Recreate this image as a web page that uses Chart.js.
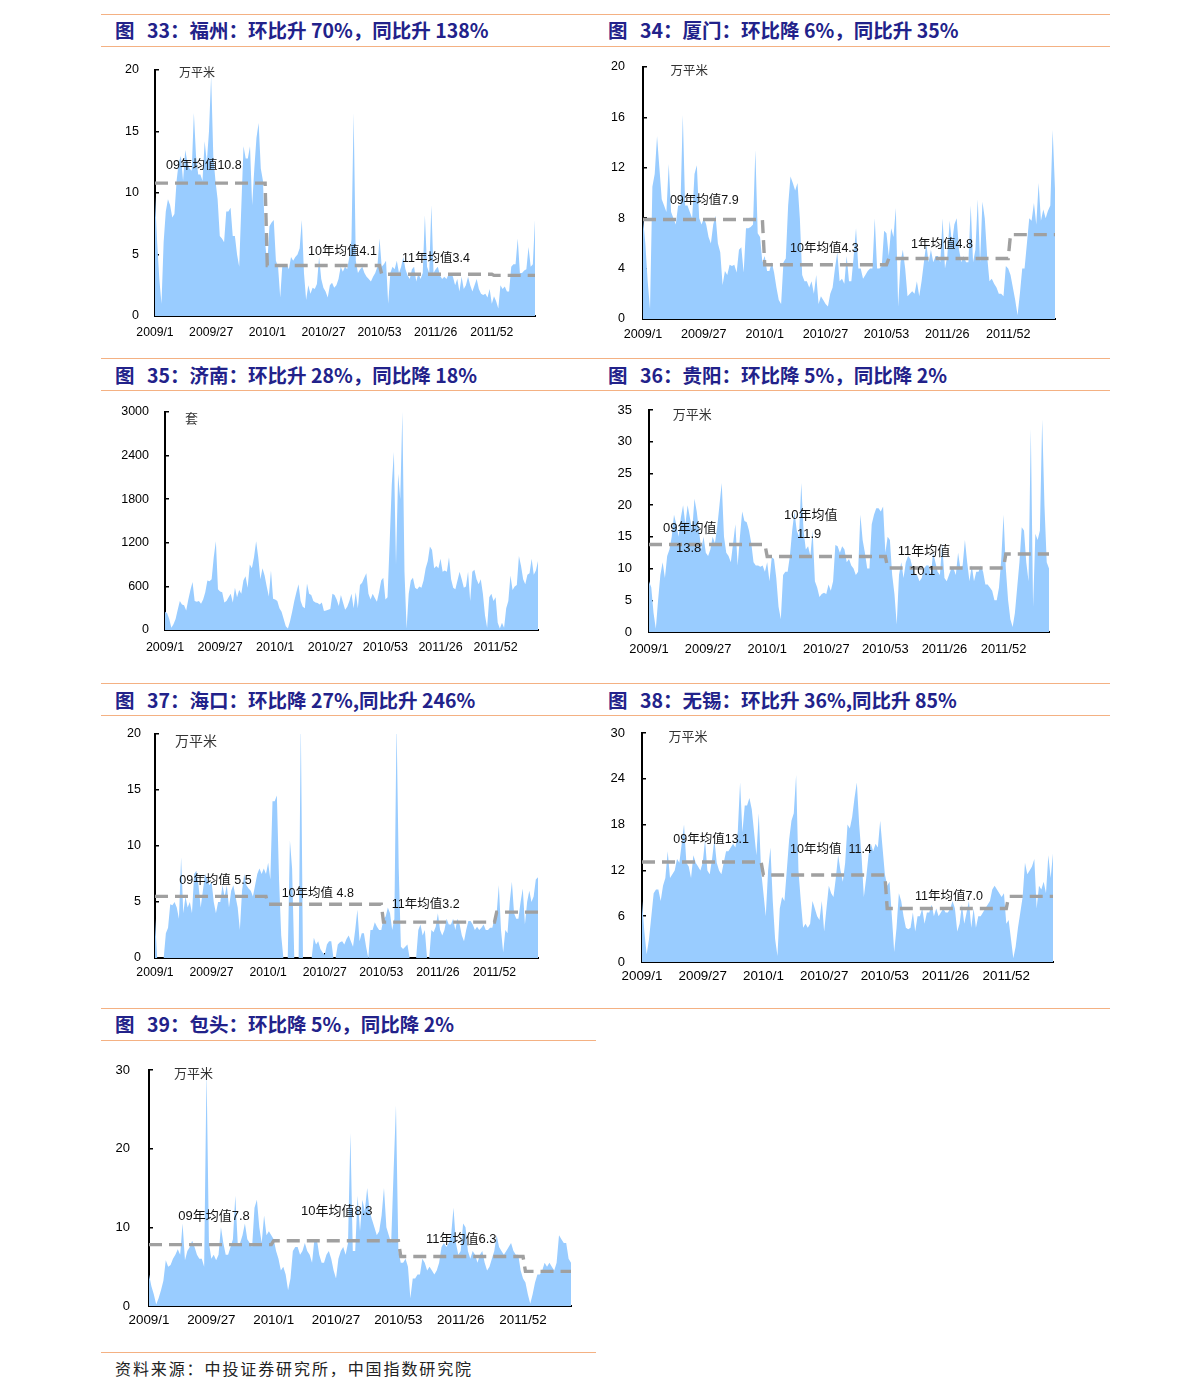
<!DOCTYPE html>
<html><head><meta charset="utf-8">
<script src="https://cdn.jsdelivr.net/npm/chart.js@4.4.1/dist/chart.umd.min.js"></script>
<style>
html,body{margin:0;padding:0;background:#fff;}
body{position:relative;width:1191px;height:1399px;overflow:hidden;font-family:"Noto Sans CJK SC",sans-serif;}
.rule{position:absolute;height:1px;background:#F4B183;}
.title{position:absolute;font-size:19.5px;font-weight:700;color:#22228a;white-space:pre;line-height:24px;}
.title b{display:inline-block;width:32px;font-weight:700;}
.src{position:absolute;left:115px;top:1357px;font-size:16px;line-height:22px;letter-spacing:1.9px;color:#222;white-space:pre;}
canvas{position:absolute;}
</style></head><body>
<div class="rule" style="left:101px;top:14px;width:1009px"></div>
<div class="rule" style="left:101px;top:46px;width:1009px"></div>
<div class="rule" style="left:101px;top:358px;width:1009px"></div>
<div class="rule" style="left:101px;top:390px;width:1009px"></div>
<div class="rule" style="left:101px;top:683px;width:1009px"></div>
<div class="rule" style="left:101px;top:715px;width:1009px"></div>
<div class="rule" style="left:101px;top:1008px;width:1009px"></div>
<div class="rule" style="left:101px;top:1040px;width:495px"></div>
<div class="rule" style="left:101px;top:1352px;width:495px"></div>

<div class="title" style="left:115px;top:18px"><b>图</b>33：福州：环比升 70%，同比升 138%</div>
<div class="title" style="left:608px;top:18px"><b>图</b>34：厦门：环比降 6%，同比升 35%</div>
<div class="title" style="left:115px;top:363px"><b>图</b>35：济南：环比升 28%，同比降 18%</div>
<div class="title" style="left:608px;top:363px"><b>图</b>36：贵阳：环比降 5%，同比降 2%</div>
<div class="title" style="left:115px;top:688px"><b>图</b>37：海口：环比降 27%,同比升 246%</div>
<div class="title" style="left:608px;top:688px"><b>图</b>38：无锡：环比升 36%,同比升 85%</div>
<div class="title" style="left:115px;top:1012px"><b>图</b>39：包头：环比降 5%，同比降 2%</div>
<div class="src">资料来源：中投证券研究所，中国指数研究院</div>

<script>
// ---------- categories ----------
const years = [2009, 2010, 2011, 2012];
const yearWeeks = [52, 53, 52, 20];
const weekLabels = [];
years.forEach((y, k) => { for (let w = 1; w <= yearWeeks[k]; w++) weekLabels.push(y + '/' + w); });

// ---------- series (weekly) ----------
const fuzhou = [
 9.7,6,3,1,6,8.5,9.5,9,8,8.3, 11,12.5,13,11,13.5,12.5,12,11.8,16.5,13, 11.5,11.5,11,14.2,12.5,15,19.5,13,11,9.5,
 6.5,6.3,6,8.5,8.5,8.8,6.5,6.5,5,4, 9,13.8,12.8,12.8,13.8,9,12,14.5,15.7,12, 11,6,
 4.2,7.3,7.6,7.8,4.5,4,1.5,4.2,4,4.2, 3.8,4.8,4.5,4.8,5,5.5,7.8,3.5,1.3,2.5, 1.8,2.3,2.2,2.6,4.8,3,2.3,2,1.5,2.5,
 2.7,2.3,2.5,3,4,3.6,4,3.8,4.8,6.2, 16.5,4.5,3.5,3.8,4,3.5,3.2,3,2.8,3.2, 3.5,4,6.3,
 4,4.2,4.5,1,3.5,4,3.8,4.5,3.5,4, 4.8,3.8,3.3,3,3.8,4,2.8,3.5,3,3.5, 8.2,4,3.5,9,3.5,3.8,4,3.3,3,3.2,
 3,3.4,3.5,3.2,2.5,3,2,3.2,2.2,2.5, 3.2,2.5,2,2.5,3,2.2,1.8,1.7,1.8,1.5, 2.2,1,
 1.6,1.2,0.6,2.5,2.2,2.4,2,2,4,4.2, 4.2,6.3,3.5,3.5,3.7,3.8,5.6,4,4.2,7.8
];
const xiamen = [
 8,6,3,0.8,10.5,11.5,14.5,12,9.5,9, 8.5,12.3,8.5,8,7.5,9,9,16.2,9,9, 8.5,8,11.5,12.2,8,7.5,8,7.5,6.5,6,
 7.5,8.2,6,5.3,2.7,3.8,3.5,4.3,4.2,4.3, 3.7,5.5,5.7,3.7,7.2,7.2,7.3,7.5,13.4,6.8, 6.5,4.5,
 5,3.8,3.8,4.5,3.7,2.5,1.5,1.2,4.5,4.8, 9,11.3,10.8,10.2,10.8,8,3.5,3,3,2.5, 3,2,3.5,1.2,1.8,1.5,1.2,1,2,2.5,
 4,5.3,3,3.2,2.8,5,3,3,5,7.2, 4,4,3.2,3.5,3.8,4,4,8,4,4, 4.2,7,6.8,
 5,7.2,6.5,8.8,1,4.5,5.5,4,1.8,2, 2.2,2,3,1.8,3,4.5,6,4.5,5.5,4.5, 5,5,4.5,8,4,5,7.8,6,7.5,8,
 5.5,4.5,5,4.5,4.5,9,4.5,5.5,9.5,4.5, 9.3,8,5,3,3.2,2.8,2.5,2,2,1.8, 4.2,4,
 3.5,2.5,1.5,0.3,2,4,4,6,8,7.8, 9.2,7.5,10.8,7.8,8.7,8,8.6,9,15,10.3
];
const jinan = [
 250,230,150,30,80,150,280,400,350,340, 270,420,550,660,400,390,400,360,420,520, 680,670,700,1000,1220,560,530,520,380,400,
 450,500,380,580,450,550,500,680,740,580, 900,850,1000,1220,1000,700,850,750,600,460, 820,430,
 420,400,300,250,150,50,20,120,250,400, 520,630,400,320,300,640,500,480,400,380, 370,350,380,260,270,280,290,500,480,420,
 330,480,380,280,320,400,500,300,520,300, 620,650,720,780,500,420,500,440,390,520, 680,720,420,
 450,1200,2000,2450,900,2150,1800,3000,800,20, 500,680,720,580,560,600,580,680,850,950, 1150,1100,850,880,850,980,800,820,800,1000,
 700,580,560,680,800,700,580,600,800,400, 800,830,700,630,700,500,200,30,450,500, 400,450,
 100,20,100,30,300,400,750,550,600,620, 1020,880,700,630,760,780,980,760,820,950
];
const guiyang = [
 8,7,3,0.5,5,9,11,8.5,12,13, 15,18.5,17,15,18,20,17,20,18,16, 21,19,16,13,15,12.5,12,13,15,14,
 16.5,20,23.5,15,12.5,12,11,14,17,10.5, 15,19,17.5,17.3,16,14,11,10.5,10.5,10.3, 10.5,9.5,
 11,8,11.8,11.5,8.5,4,2,9,9.5,9.5, 12,16,19,16,15,23.5,16,13,13.5,12, 16,8,7,5.5,6,6.2,6,7.5,6.5,8,
 13.7,13.5,12.5,13.5,13,11,11.5,10.5,10,9, 9.5,18.5,14.5,12.5,10,10,17,18.5,19.5,19.5, 19,19.8,12.5,
 15,14.5,9,6,1.2,9,11,8.5,11,12, 11.5,10,9,9,8,8.5,10,10.5,10.5,9, 12.5,11,9.5,9,14,8.5,8,9,10,10,
 9,12.5,10,10.5,14.5,11,8,10.5,8,9.5, 9.5,10.5,9.5,7.5,7.5,7,6.5,5,5,7, 11.5,18.5,
 10,5,2,0.8,3,7,11,16.5,16,11, 8,32,4,15.5,14.5,16,33.5,20,11,10
];
const haikou = [
 3.5,0,0,0,0,2.2,2.7,4.8,4.7,5, 4.5,3.5,9,4,5.5,4.5,5,4,7.5,7.8, 6.5,4.5,6,7.5,7,6.5,6.8,5,4,5,
 5,6.5,5.5,6.5,4.5,6,6.5,5.5,4.5,2.5, 6,7.5,6.5,6.2,6,5.5,6.5,7.5,8,7.5, 8,7.5,
 8.5,7,14,14,14.5,7,2,0,0,0, 10.5,8,0,0,0,21,0,0,0,0, 0,1.8,1.2,1.5,0.8,0.5,0.3,1.2,1.5,1.5,
 0,0,1.2,1.4,1.5,1.2,1.7,2,1.5,1, 2.5,4.3,1.5,2.2,2.2,1,0,2.5,2.5,3.2, 2.8,2.5,2.5,
 3.5,3.7,4.5,4,2.5,3.5,21,8,1,0.8, 1,1.2,0,0,0,0,2.5,3,2,2.5, 0,0,2.5,2.3,2.8,4,2.5,2,2.5,3.5,
 3,3,3.5,2.5,3.5,3,2,1.5,2.5,3.3, 3.3,3,2.5,2.8,2.5,2.7,3,2.5,2.5,2.7, 2.7,3.5,
 4,6.5,2.5,0.5,2.5,2.2,5,6.8,4,3.5, 3.5,5,6.2,3,5,6,5,5.5,7,7.2
];
const wuxi = [
 8,4,1,3,6,9,9.5,9.5,8,10, 11,14.5,11,11.5,12,13.5,13,15.5,18,13, 12.5,11,14,13,12.5,12,13,16,12,11.5,
 13.5,16,13,12,11.5,13,14.5,14.5,15,15.5, 15,17,23.5,17,20.5,20.5,21.5,20,17,14, 19.5,12,
 9,6,12,15,8,3,0.8,7,8.5,8, 12,16,18.5,19.5,24.5,12,8,4.5,5,4.5, 5,8,7,6,5.5,8,4,7,10,9,
 8.5,11,14,12,10.5,13,18,17.5,19,21.5, 23.5,18,14,8.5,11,14,15.5,14.5,15.5,15, 18.5,15,11.5,
 10,10.5,6,1.3,4.5,9,8,6,4.5,4.3, 4.5,6.5,4,6,6,7,5,6.5,6.5,7.5, 6,7,6,6.5,7,6.5,6.5,7,8,7,
 4,5,7.5,5,6.5,8,4.5,7,4.5,6, 6,6.5,7,7.5,8,9.5,10,9.5,9,8.5, 9,5,
 5.5,3,0.5,2,4.5,6.5,8.5,13,11.5,12, 12.5,13.5,7,10,9.5,10.5,9,14,11,14.2
];
const baotou = [
 4,2.5,1.5,0.2,1,2,3.2,5.8,5,5.2, 6,6.5,7.2,6.5,10.5,5.8,7,7.5,8.3,7.5, 6.5,6,6,5,30,8,6,6.5,5.8,6.5,
 10,8,6.5,6.5,7.5,8.5,14,8,8,9, 10.5,8.5,8,7.5,12.5,13.5,10,8,11.5,9, 9.5,9,
 8.5,7,6,4.5,5,4,2,3.5,7,7.5, 7.5,6.5,7,8,7,6.5,5.5,8.5,8.5,6.5, 5.5,5.5,6.5,7,6,4.5,3.5,6,7,7.5,
 6.5,8,22,7,7,14,9.5,13.5,12,15, 12,11,10,9,9.5,11.5,15,10,9,8, 17,25.5,7,
 5.5,5.5,6,5,1,3.5,3.5,4,4,6, 5.5,4.5,5,4.5,4,4.5,5.5,7.5,8,7.5, 8,9,12.5,8,6.5,7,10.5,10,7,6,
 7,6.5,5.5,6.5,7,5.5,4.5,5,6,7, 9,7.5,7,6.5,7,7.5,8,7,6.5,6.5, 4.5,3.5,
 3,1.5,0.3,1.5,3,4,4,4.5,5.5,5, 5.5,5,4.5,5.5,9,8.5,8,8,6,5.5
];

// yearly averages (2009, 2010, 2011, 2012)
const fuzhouMean  = [10.8, 4.1, 3.4, 3.3];
const xiamenMean  = [7.9, 4.3, 4.8, 6.7];
const guiyangMean = [13.8, 11.9, 10.1, 12.3];
const haikouMean  = [5.5, 4.8, 3.2, 4.1];
const wuxiMean    = [13.1, 11.4, 7.0, 8.6];
const baotouMean  = [7.8, 8.3, 6.3, 4.4];

// annotation texts
const fuzhouNotes  = ['09年均值10.8', '10年均值4.1', '11年均值3.4'];
const xiamenNotes  = ['09年均值7.9', '10年均值4.3', '1年均值4.8'];
const guiyangNotes = ['09年均值', '13.8', '10年均值', '11.9', '11年均值', '10.1'];
const haikouNotes  = ['09年均值 5.5', '10年均值 4.8', '11年均值3.2'];
const wuxiNotes    = ['09年均值13.1', '10年均值  11.4', '11年均值7.0'];
const baotouNotes  = ['09年均值7.8', '10年均值8.3', '11年均值6.3'];

function meanSeries(m) {
  const out = [];
  yearWeeks.forEach((n, k) => { for (let i = 0; i < n; i++) out.push(m[k]); });
  return out;
}

const FONT = '"Liberation Sans", Arial, "Noto Sans CJK SC", sans-serif';
Chart.defaults.font.family = FONT;

const notePlugin = {
  id: 'notes',
  afterDraw(chart, args, opts) {
    const {ctx, scales: {x, y}} = chart;
    ctx.save();
    (opts.items || []).forEach(n => {
      ctx.font = (n.size || 12.5) + 'px ' + FONT;
      ctx.fillStyle = n.color || '#111';
      ctx.textAlign = 'left';
      ctx.textBaseline = 'middle';
      ctx.fillText(n.text, x.getPixelForValue(n.i), y.getPixelForValue(n.v));
    });
    ctx.restore();
  }
};

const unit = (t, i, v, size) => ({text: t, i, v, size, color: '#333'});

const panels = [
  {data: fuzhou, mean: fuzhouMean, box: [155, 70, 535, 316], yMax: 20, yStep: 5, yFont: 12.5, yGap: 16, xFont: 12.2, xPad: 14.4,
   notes: [unit('万平米', 11.1, 19.7, 12), {text: fuzhouNotes[0], i: 5.1, v: 12.2}, {text: fuzhouNotes[1], i: 70.9, v: 5.2}, {text: fuzhouNotes[2], i: 114.4, v: 4.7}]},
  {data: xiamen, mean: xiamenMean, box: [643, 67, 1055, 319], yMax: 20, yStep: 4, yFont: 12.5, yGap: 18, xFont: 12.6, xPad: 13.4,
   notes: [unit('万平米', 11.8, 19.6, 12.5), {text: xiamenNotes[0], i: 11.5, v: 9.44}, {text: xiamenNotes[1], i: 62.8, v: 5.6}, {text: xiamenNotes[2], i: 114.5, v: 5.9}]},
  {data: jinan, mean: null, box: [165, 412, 538, 630], yMax: 3000, yStep: 600, yFont: 12.5, yGap: 16, xFont: 12.5, xPad: 15.5,
   notes: [unit('套', 9.4, 2903, 13)]},
  {data: guiyang, mean: guiyangMean, box: [649, 410, 1049, 632], yMax: 35, yStep: 5, yFont: 13, yGap: 17, xFont: 12.9, xPad: 14.3,
   notes: [unit('万平米', 10.4, 34.2, 13), {text: guiyangNotes[0], i: 6.2, v: 16.4, size: 13}, {text: guiyangNotes[1], i: 11.9, v: 13.2, size: 13},
           {text: guiyangNotes[2], i: 59.4, v: 18.4, size: 13}, {text: guiyangNotes[3], i: 65.1, v: 15.4, size: 13},
           {text: guiyangNotes[4], i: 109.4, v: 12.66, size: 13}, {text: guiyangNotes[5], i: 114.8, v: 9.5, size: 13}]},
  {data: haikou, mean: haikouMean, box: [155, 734, 538, 958], yMax: 20, yStep: 5, yFont: 12.5, yGap: 14, xFont: 12.2, xPad: 12,
   notes: [unit('万平米', 9.2, 19.3, 14), {text: haikouNotes[0], i: 11.2, v: 6.96}, {text: haikouNotes[1], i: 58.2, v: 5.78}, {text: haikouNotes[2], i: 108.8, v: 4.79}]},
  {data: wuxi, mean: wuxiMean, box: [642, 733, 1053, 962], yMax: 30, yStep: 6, yFont: 13, yGap: 17, xFont: 13.4, xPad: 11.7,
   notes: [unit('万平米', 11.3, 29.4, 13), {text: wuxiNotes[0], i: 13.4, v: 16.0}, {text: wuxiNotes[1], i: 63.4, v: 14.76}, {text: wuxiNotes[2], i: 116.9, v: 8.56}]},
  {data: baotou, mean: baotouMean, box: [149, 1070, 571, 1306], yMax: 30, yStep: 10, yFont: 13, yGap: 19, xFont: 13.4, xPad: 11.7,
   notes: [unit('万平米', 10.4, 29.5, 13), {text: baotouNotes[0], i: 12.2, v: 11.44, size: 13}, {text: baotouNotes[1], i: 63.4, v: 12.08, size: 13}, {text: baotouNotes[2], i: 115.5, v: 8.48, size: 13}]}
];

function makePanel(p) {
  const [L, T, R, B] = p.box;
  const padL = 60, padT = 34, padR = 24, padB = 36;
  const w = R - L + padL + padR, h = B - T + padT + padB;
  const cv = document.createElement('canvas');
  cv.width = w; cv.height = h;
  cv.style.left = (L - padL) + 'px';
  cv.style.top = (T - padT) + 'px';
  cv.style.width = w + 'px';
  cv.style.height = h + 'px';
  document.body.appendChild(cv);

  const datasets = [];
  if (p.mean) {
    datasets.push({type: 'line', data: meanSeries(p.mean), borderColor: 'rgb(160,160,160)', borderWidth: 3.4,
      borderDash: [13, 7], fill: false, pointRadius: 0, tension: 0, order: 0});
  }
  datasets.push({type: 'line', data: p.data, borderWidth: 0, borderColor: 'rgba(0,0,0,0)', backgroundColor: 'rgb(153,204,255)',
    fill: 'origin', pointRadius: 0, tension: 0, order: 1});

  new Chart(cv, {
    type: 'line',
    data: {labels: weekLabels, datasets},
    options: {
      responsive: false, animation: false, devicePixelRatio: 1,
      layout: {padding: {left: 0, top: padT, right: padR, bottom: 0}},
      plugins: {legend: {display: false}, tooltip: {enabled: false}, notes: {items: p.notes}},
      scales: {
        x: {
          type: 'category', offset: false, z: 1,
          afterFit: s => { s.height = padB; },
          border: {display: true, color: '#000', width: 2},
          grid: {display: true, drawOnChartArea: false, drawTicks: true, tickLength: -5, lineWidth: 2,
                 color: c => (c.index % 26 === 0 && c.index > 0) ? '#000' : 'rgba(0,0,0,0)'},
          ticks: {autoSkip: false, maxRotation: 0, minRotation: 0, padding: p.xPad, color: '#000',
                  font: {size: p.xFont}, callback: (v, i) => (i % 26 === 0 ? weekLabels[i] : '')}
        },
        y: {
          min: 0, max: p.yMax, z: 1,
          afterFit: s => { s.width = padL; },
          border: {display: true, color: '#000', width: 2},
          grid: {display: true, drawOnChartArea: false, drawTicks: true, tickLength: -4, lineWidth: 1.5, color: '#000'},
          ticks: {stepSize: p.yStep, padding: p.yGap + 4, color: '#000', font: {size: p.yFont}, callback: v => String(v)}
        }
      }
    },
    plugins: [notePlugin]
  });
}

panels.forEach(makePanel);
</script>
</body></html>
